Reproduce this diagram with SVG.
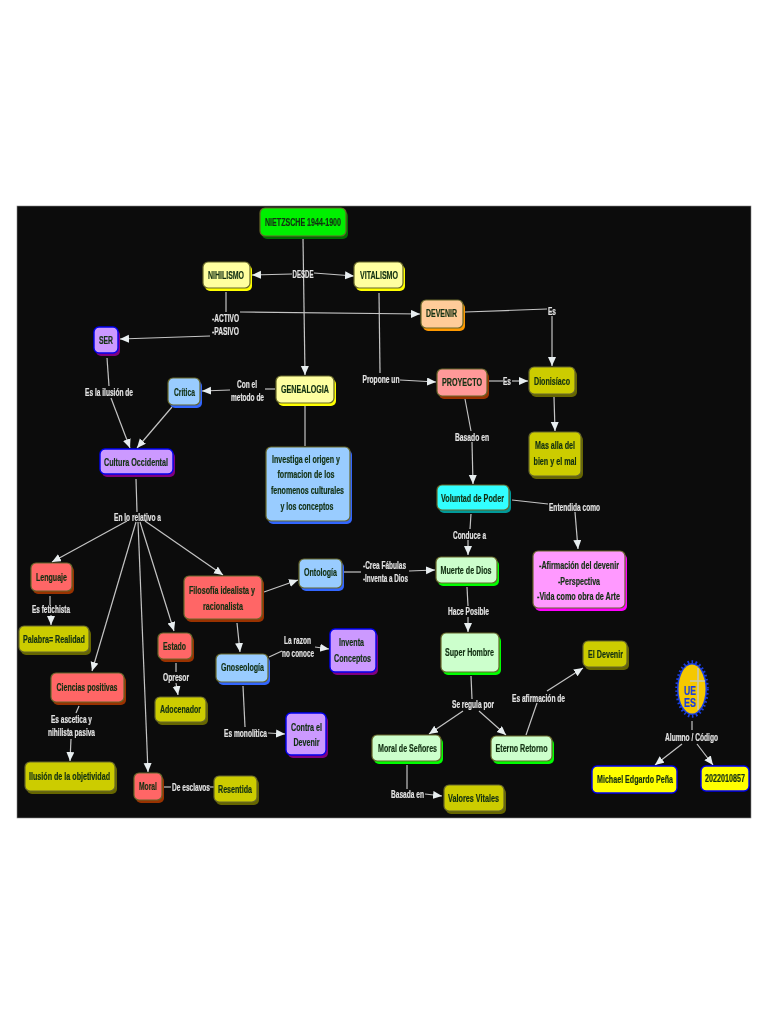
<svg xmlns="http://www.w3.org/2000/svg" width="768" height="1024" viewBox="0 0 768 1024">
<style>
text{font-family:"Liberation Sans",Arial,sans-serif;font-weight:700;font-size:10.500px;text-anchor:middle;fill:#123012;stroke:#123012;stroke-width:0.2}
.l text{fill:#e2e2e2;stroke:#e2e2e2}
.f{stroke:#66662a;stroke-width:1.2}
.b{stroke:#0000ee;stroke-width:1.4}
.c line{stroke:#c4c4c4;stroke-width:1.2}
.a{marker-end:url(#ah)}
</style>
<defs>
<marker id="ah" markerUnits="userSpaceOnUse" markerWidth="10" markerHeight="9" refX="9" refY="4" orient="auto"><path d="M0 0L9 4L0 8Z" fill="#e8eef0"/></marker>
<filter id="s" x="-2%" y="-2%" width="104%" height="104%"><feGaussianBlur stdDeviation="0.55"/></filter>
</defs>
<rect width="768" height="1024" fill="#fff"/>
<rect x="17" y="206" width="734" height="612" fill="#0c0c0c" stroke="#888" stroke-width="0.6"/>
<g filter="url(#s)">
<g id="connectors" class="c">
<line class="a" x1="303" y1="238" x2="305" y2="375"/>
<line class="a" x1="292" y1="274" x2="252" y2="275"/>
<line class="a" x1="314" y1="273" x2="354" y2="276"/>
<line x1="226" y1="292" x2="226" y2="312"/>
<line class="a" x1="240" y1="312" x2="420" y2="314"/>
<line class="a" x1="210" y1="336" x2="120" y2="339"/>
<line x1="107" y1="358" x2="109" y2="386"/>
<line class="a" x1="111" y1="398" x2="130" y2="448"/>
<line class="a" x1="172" y1="407" x2="137" y2="448"/>
<line class="a" x1="230" y1="390" x2="202" y2="391"/>
<line x1="275" y1="389" x2="265" y2="389"/>
<line x1="305" y1="406" x2="305" y2="446"/>
<line x1="379" y1="293" x2="380" y2="373"/>
<line class="a" x1="400" y1="380" x2="436" y2="382"/>
<line x1="465" y1="312" x2="547" y2="309"/>
<line class="a" x1="552" y1="316" x2="552" y2="366"/>
<line x1="489" y1="381" x2="503" y2="381"/>
<line class="a" x1="512" y1="381" x2="528" y2="381"/>
<line class="a" x1="554" y1="397" x2="555" y2="431"/>
<line x1="465" y1="399" x2="471" y2="431"/>
<line class="a" x1="472" y1="442" x2="473" y2="484"/>
<line x1="512" y1="500" x2="548" y2="504"/>
<line class="a" x1="575" y1="512" x2="578" y2="549"/>
<line x1="471" y1="514" x2="470" y2="529"/>
<line class="a" x1="468" y1="540" x2="468" y2="555"/>
<line x1="467" y1="587" x2="468" y2="606"/>
<line class="a" x1="468" y1="617" x2="468" y2="632"/>
<line x1="471" y1="676" x2="472" y2="699"/>
<line class="a" x1="463" y1="711" x2="429" y2="734"/>
<line class="a" x1="479" y1="711" x2="506" y2="735"/>
<line x1="526" y1="735" x2="537" y2="703"/>
<line class="a" x1="547" y1="691" x2="583" y2="668"/>
<line x1="407" y1="765" x2="407" y2="789"/>
<line class="a" x1="425" y1="794" x2="442" y2="796"/>
<line x1="692" y1="721" x2="692" y2="730"/>
<line class="a" x1="682" y1="744" x2="655" y2="765"/>
<line class="a" x1="697" y1="744" x2="713" y2="765"/>
<line x1="136" y1="479" x2="137" y2="512"/>
<line class="a" x1="127" y1="521" x2="52" y2="562"/>
<line class="a" x1="136" y1="522" x2="92" y2="671"/>
<line class="a" x1="138" y1="522" x2="148" y2="772"/>
<line class="a" x1="140" y1="522" x2="174" y2="631"/>
<line class="a" x1="145" y1="521" x2="223" y2="575"/>
<line x1="50" y1="596" x2="50" y2="605"/>
<line class="a" x1="51" y1="615" x2="51" y2="625"/>
<line x1="79" y1="706" x2="76" y2="713"/>
<line class="a" x1="71" y1="739" x2="70" y2="761"/>
<line x1="176" y1="663" x2="176" y2="672"/>
<line class="a" x1="176" y1="683" x2="178" y2="695"/>
<line x1="164" y1="787" x2="171" y2="787"/>
<line x1="210" y1="787" x2="214" y2="787"/>
<line class="a" x1="264" y1="592" x2="298" y2="580"/>
<line class="a" x1="237" y1="623" x2="240" y2="652"/>
<line x1="269" y1="657" x2="282" y2="651"/>
<line class="a" x1="315" y1="647" x2="329" y2="649"/>
<line x1="243" y1="686" x2="245" y2="727"/>
<line class="a" x1="268" y1="733" x2="285" y2="734"/>
<line x1="344" y1="572" x2="361" y2="572"/>
<line class="a" x1="409" y1="571" x2="435" y2="570"/>
</g>
<g id="labels" class="l">
<text x="303" y="278" textLength="21" lengthAdjust="spacingAndGlyphs">DESDE</text>
<text x="225.500" y="322" textLength="27" lengthAdjust="spacingAndGlyphs">-ACTIVO</text>
<text x="225.500" y="335" textLength="27" lengthAdjust="spacingAndGlyphs">-PASIVO</text>
<text x="109" y="396" textLength="48" lengthAdjust="spacingAndGlyphs">Es la ilusión de</text>
<text x="247" y="388" textLength="20" lengthAdjust="spacingAndGlyphs">Con el</text>
<text x="247.500" y="401" textLength="33" lengthAdjust="spacingAndGlyphs">metodo de</text>
<text x="381" y="383" textLength="37" lengthAdjust="spacingAndGlyphs">Propone un</text>
<text x="552" y="315" textLength="8" lengthAdjust="spacingAndGlyphs">Es</text>
<text x="507" y="385" textLength="8" lengthAdjust="spacingAndGlyphs">Es</text>
<text x="472" y="441" textLength="34" lengthAdjust="spacingAndGlyphs">Basado en</text>
<text x="574.500" y="511" textLength="51" lengthAdjust="spacingAndGlyphs">Entendida como</text>
<text x="137.500" y="521" textLength="47" lengthAdjust="spacingAndGlyphs">En lo relativo a</text>
<text x="51" y="613" textLength="38" lengthAdjust="spacingAndGlyphs">Es fetichista</text>
<text x="71.500" y="723" textLength="41" lengthAdjust="spacingAndGlyphs">Es ascetica y</text>
<text x="71.500" y="736" textLength="47" lengthAdjust="spacingAndGlyphs">nihilista pasiva</text>
<text x="176" y="681" textLength="26" lengthAdjust="spacingAndGlyphs">Opresor</text>
<text x="191" y="791" textLength="38" lengthAdjust="spacingAndGlyphs">De esclavos</text>
<text x="297.500" y="644" textLength="27" lengthAdjust="spacingAndGlyphs">La razon</text>
<text x="298" y="657" textLength="32" lengthAdjust="spacingAndGlyphs">no conoce</text>
<text x="245.500" y="737" textLength="43" lengthAdjust="spacingAndGlyphs">Es monolítica</text>
<text x="384.500" y="569" textLength="43" lengthAdjust="spacingAndGlyphs">-Crea Fábulas</text>
<text x="385.500" y="582" textLength="45" lengthAdjust="spacingAndGlyphs">-Inventa a Dios</text>
<text x="469.500" y="539" textLength="33" lengthAdjust="spacingAndGlyphs">Conduce a</text>
<text x="468.500" y="615" textLength="41" lengthAdjust="spacingAndGlyphs">Hace Posible</text>
<text x="473" y="708" textLength="42" lengthAdjust="spacingAndGlyphs">Se regula por</text>
<text x="538.500" y="702" textLength="53" lengthAdjust="spacingAndGlyphs">Es afirmación de</text>
<text x="691.500" y="741" textLength="53" lengthAdjust="spacingAndGlyphs">Alumno / Código</text>
<text x="407.500" y="798" textLength="33" lengthAdjust="spacingAndGlyphs">Basada en</text>
</g>
<g id="n-nietzsche"><rect x="262" y="211" width="86" height="28" rx="5" fill="#007000"/><rect class="f" x="260" y="208" width="86" height="28" rx="5" fill="#00f000"/><text x="303" y="226" textLength="76" lengthAdjust="spacingAndGlyphs">NIETZSCHE 1944-1900</text></g>
<g id="n-nihilismo"><rect x="205" y="265" width="47" height="26" rx="5" fill="#ffff00"/><rect class="f" x="203" y="262" width="47" height="26" rx="5" fill="#ffffa0"/><text x="226" y="279" textLength="36" lengthAdjust="spacingAndGlyphs">NIHILISMO</text></g>
<g id="n-vitalismo"><rect x="356" y="265" width="49" height="26" rx="5" fill="#ffff00"/><rect class="f" x="354" y="262" width="49" height="26" rx="5" fill="#ffffa0"/><text x="379" y="279" textLength="38" lengthAdjust="spacingAndGlyphs">VITALISMO</text></g>
<g id="n-ser"><rect x="96" y="330" width="24" height="26" rx="5" fill="#800080"/><rect class="b" x="94" y="327" width="24" height="26" rx="5" fill="#cc99ff"/><text x="106" y="344" textLength="14" lengthAdjust="spacingAndGlyphs">SER</text></g>
<g id="n-critica"><rect x="170" y="381" width="32" height="27" rx="5" fill="#3366ff"/><rect class="f" x="168" y="378" width="32" height="27" rx="5" fill="#99ccff"/><text x="184.500" y="396" textLength="21" lengthAdjust="spacingAndGlyphs">Crítica</text></g>
<g id="n-genealogia"><rect x="278" y="379" width="58" height="27" rx="5" fill="#ffff00"/><rect class="f" x="276" y="376" width="58" height="27" rx="5" fill="#ffffa0"/><text x="305" y="393" textLength="48" lengthAdjust="spacingAndGlyphs">GENEALOGIA</text></g>
<g id="n-cultura"><rect x="102" y="452" width="73" height="25" rx="5" fill="#800080"/><rect class="b" x="100" y="449" width="73" height="25" rx="5" fill="#cc99ff"/><text x="136" y="466" textLength="64" lengthAdjust="spacingAndGlyphs">Cultura Occidental</text></g>
<g id="n-investiga"><rect x="268" y="450" width="84" height="74" rx="5" fill="#3366ff"/><rect class="f" x="266" y="447" width="84" height="74" rx="5" fill="#99ccff"/><text x="306" y="463" textLength="68" lengthAdjust="spacingAndGlyphs">Investiga el origen y</text><text x="306" y="478" textLength="57" lengthAdjust="spacingAndGlyphs">formacion de los</text><text x="307.500" y="494" textLength="73" lengthAdjust="spacingAndGlyphs">fenomenos culturales</text><text x="307" y="510" textLength="53" lengthAdjust="spacingAndGlyphs">y los conceptos</text></g>
<g id="n-devenir"><rect x="423" y="303" width="42" height="28" rx="5" fill="#ff9900"/><rect class="f" x="421" y="300" width="42" height="28" rx="5" fill="#ffcc99"/><text x="441.500" y="317" textLength="31" lengthAdjust="spacingAndGlyphs">DEVENIR</text></g>
<g id="n-proyecto"><rect x="439" y="372" width="50" height="27" rx="5" fill="#993300"/><rect class="f" x="437" y="369" width="50" height="27" rx="5" fill="#ff9999"/><text x="462" y="386" textLength="40" lengthAdjust="spacingAndGlyphs">PROYECTO</text></g>
<g id="n-dionisiaco"><rect x="531" y="370" width="46" height="27" rx="5" fill="#666600"/><rect class="f" x="529" y="367" width="46" height="27" rx="5" fill="#cccc00"/><text x="552" y="385" textLength="36" lengthAdjust="spacingAndGlyphs">Dionisíaco</text></g>
<g id="n-masalla"><rect x="531" y="435" width="52" height="44" rx="5" fill="#666600"/><rect class="f" x="529" y="432" width="52" height="44" rx="5" fill="#cccc00"/><text x="555" y="449" textLength="40" lengthAdjust="spacingAndGlyphs">Mas alla del</text><text x="555" y="465" textLength="43" lengthAdjust="spacingAndGlyphs">bien y el mal</text></g>
<g id="n-voluntad"><rect x="439" y="488" width="72" height="25" rx="5" fill="#009999"/><rect class="f" x="437" y="485" width="72" height="25" rx="5" fill="#33ffff"/><text x="472.500" y="502" textLength="63" lengthAdjust="spacingAndGlyphs">Voluntad de Poder</text></g>
<g id="n-lenguaje"><rect x="33" y="566" width="41" height="28" rx="5" fill="#993300"/><rect class="f" x="31" y="563" width="41" height="28" rx="5" fill="#ff6666"/><text x="51.500" y="581" textLength="31" lengthAdjust="spacingAndGlyphs">Lenguaje</text></g>
<g id="n-palabra"><rect x="21" y="629" width="70" height="26" rx="5" fill="#666600"/><rect class="f" x="19" y="626" width="70" height="26" rx="5" fill="#cccc00"/><text x="54" y="643" textLength="62" lengthAdjust="spacingAndGlyphs">Palabra= Realidad</text></g>
<g id="n-ciencias"><rect x="53" y="676" width="73" height="29" rx="5" fill="#993300"/><rect class="f" x="51" y="673" width="73" height="29" rx="5" fill="#ff6666"/><text x="87" y="691" textLength="61" lengthAdjust="spacingAndGlyphs">Ciencias positivas</text></g>
<g id="n-ilusion"><rect x="27" y="765" width="90" height="29" rx="5" fill="#666600"/><rect class="f" x="25" y="762" width="90" height="29" rx="5" fill="#cccc00"/><text x="69.500" y="780" textLength="81" lengthAdjust="spacingAndGlyphs">Ilusión de la objetividad</text></g>
<g id="n-moral"><rect x="136" y="776" width="28" height="27" rx="5" fill="#993300"/><rect class="f" x="134" y="773" width="28" height="27" rx="5" fill="#ff6666"/><text x="148" y="790" textLength="18" lengthAdjust="spacingAndGlyphs">Moral</text></g>
<g id="n-resentida"><rect x="216" y="779" width="43" height="26" rx="5" fill="#666600"/><rect class="f" x="214" y="776" width="43" height="26" rx="5" fill="#cccc00"/><text x="235" y="793" textLength="34" lengthAdjust="spacingAndGlyphs">Resentida</text></g>
<g id="n-estado"><rect x="160" y="636" width="34" height="26" rx="5" fill="#993300"/><rect class="f" x="158" y="633" width="34" height="26" rx="5" fill="#ff6666"/><text x="174.500" y="650" textLength="23" lengthAdjust="spacingAndGlyphs">Estado</text></g>
<g id="n-adocenador"><rect x="157" y="700" width="51" height="25" rx="5" fill="#666600"/><rect class="f" x="155" y="697" width="51" height="25" rx="5" fill="#cccc00"/><text x="180.500" y="713" textLength="41" lengthAdjust="spacingAndGlyphs">Adocenador</text></g>
<g id="n-filosofia"><rect x="186" y="579" width="78" height="43" rx="5" fill="#993300"/><rect class="f" x="184" y="576" width="78" height="43" rx="5" fill="#ff6666"/><text x="222" y="594" textLength="66" lengthAdjust="spacingAndGlyphs">Filosofía idealista y</text><text x="223" y="610" textLength="40" lengthAdjust="spacingAndGlyphs">racionalista</text></g>
<g id="n-ontologia"><rect x="301" y="562" width="43" height="29" rx="5" fill="#3366ff"/><rect class="f" x="299" y="559" width="43" height="29" rx="5" fill="#99ccff"/><text x="320.500" y="576" textLength="33" lengthAdjust="spacingAndGlyphs">Ontología</text></g>
<g id="n-gnoseologia"><rect x="218" y="657" width="52" height="28" rx="5" fill="#3366ff"/><rect class="f" x="216" y="654" width="52" height="28" rx="5" fill="#99ccff"/><text x="242.500" y="671" textLength="43" lengthAdjust="spacingAndGlyphs">Gnoseología</text></g>
<g id="n-inventa"><rect x="332" y="632" width="46" height="43" rx="5" fill="#800080"/><rect class="b" x="330" y="629" width="46" height="43" rx="5" fill="#cc99ff"/><text x="351.500" y="646" textLength="25" lengthAdjust="spacingAndGlyphs">Inventa</text><text x="352.500" y="662" textLength="37" lengthAdjust="spacingAndGlyphs">Conceptos</text></g>
<g id="n-contra"><rect x="288" y="716" width="40" height="42" rx="5" fill="#800080"/><rect class="b" x="286" y="713" width="40" height="42" rx="5" fill="#cc99ff"/><text x="306.500" y="731" textLength="31" lengthAdjust="spacingAndGlyphs">Contra el</text><text x="306.500" y="746" textLength="26" lengthAdjust="spacingAndGlyphs">Devenir</text></g>
<g id="n-muerte"><rect x="438" y="560" width="61" height="26" rx="5" fill="#00ff00"/><rect class="f" x="436" y="557" width="61" height="26" rx="5" fill="#ccffcc"/><text x="466" y="574" textLength="51" lengthAdjust="spacingAndGlyphs">Muerte de Dios</text></g>
<g id="n-afirmacion"><rect x="535" y="554" width="92" height="57" rx="5" fill="#ff00ff"/><rect class="f" x="533" y="551" width="92" height="57" rx="5" fill="#ff99ff"/><text x="579" y="569" textLength="80" lengthAdjust="spacingAndGlyphs">-Afirmación del devenir</text><text x="579" y="584.500" textLength="42" lengthAdjust="spacingAndGlyphs">-Perspectiva</text><text x="578.500" y="600" textLength="83" lengthAdjust="spacingAndGlyphs">-Vida como obra de Arte</text></g>
<g id="n-super"><rect x="443" y="636" width="58" height="39" rx="5" fill="#00ff00"/><rect class="f" x="441" y="633" width="58" height="39" rx="5" fill="#ccffcc"/><text x="469.500" y="656" textLength="49" lengthAdjust="spacingAndGlyphs">Super Hombre</text></g>
<g id="n-eldevenir"><rect x="585" y="644" width="44" height="26" rx="5" fill="#666600"/><rect class="f" x="583" y="641" width="44" height="26" rx="5" fill="#cccc00"/><text x="605.500" y="658" textLength="35" lengthAdjust="spacingAndGlyphs">El Devenir</text></g>
<g id="n-senores"><rect x="374" y="738" width="69" height="26" rx="5" fill="#00ff00"/><rect class="f" x="372" y="735" width="69" height="26" rx="5" fill="#ccffcc"/><text x="407.500" y="752" textLength="59" lengthAdjust="spacingAndGlyphs">Moral de Señores</text></g>
<g id="n-eterno"><rect x="493" y="739" width="61" height="25" rx="5" fill="#00ff00"/><rect class="f" x="491" y="736" width="61" height="25" rx="5" fill="#ccffcc"/><text x="521.500" y="752" textLength="52" lengthAdjust="spacingAndGlyphs">Eterno Retorno</text></g>
<g id="n-valores"><rect x="446" y="788" width="60" height="26" rx="5" fill="#666600"/><rect class="f" x="444" y="785" width="60" height="26" rx="5" fill="#cccc00"/><text x="473.500" y="802" textLength="51" lengthAdjust="spacingAndGlyphs">Valores Vitales</text></g>
<g id="n-logo"><ellipse cx="692" cy="689" rx="15" ry="27" fill="none" stroke="#1a3ee0" stroke-width="3.500" stroke-dasharray="1.600 2.400"/><ellipse cx="692" cy="689" rx="15" ry="26" fill="#1a3ee0"/><ellipse cx="692" cy="689" rx="13.500" ry="24.500" fill="#f5c800"/><path d="M698 668V710M690 681H705" stroke="#c8c8b0" stroke-width="1.600" fill="none"/><text x="690" y="695" textLength="12" lengthAdjust="spacingAndGlyphs" style="fill:#1a3ee0;stroke:#1a3ee0;font-size:13px">UE</text><text x="690" y="707" textLength="12" lengthAdjust="spacingAndGlyphs" style="fill:#1a3ee0;stroke:#1a3ee0;font-size:13px">ES</text></g>
<g id="n-michael"><rect class="b" x="592" y="766" width="85" height="27" rx="5" fill="#ffff00"/><text x="635" y="783" textLength="76" lengthAdjust="spacingAndGlyphs">Michael Edgardo Peña</text></g>
<g id="n-codigo"><rect class="b" x="701" y="766" width="48" height="25" rx="5" fill="#ffff00"/><text x="725" y="782" textLength="40" lengthAdjust="spacingAndGlyphs">2022010857</text></g>
</g>
</svg>
